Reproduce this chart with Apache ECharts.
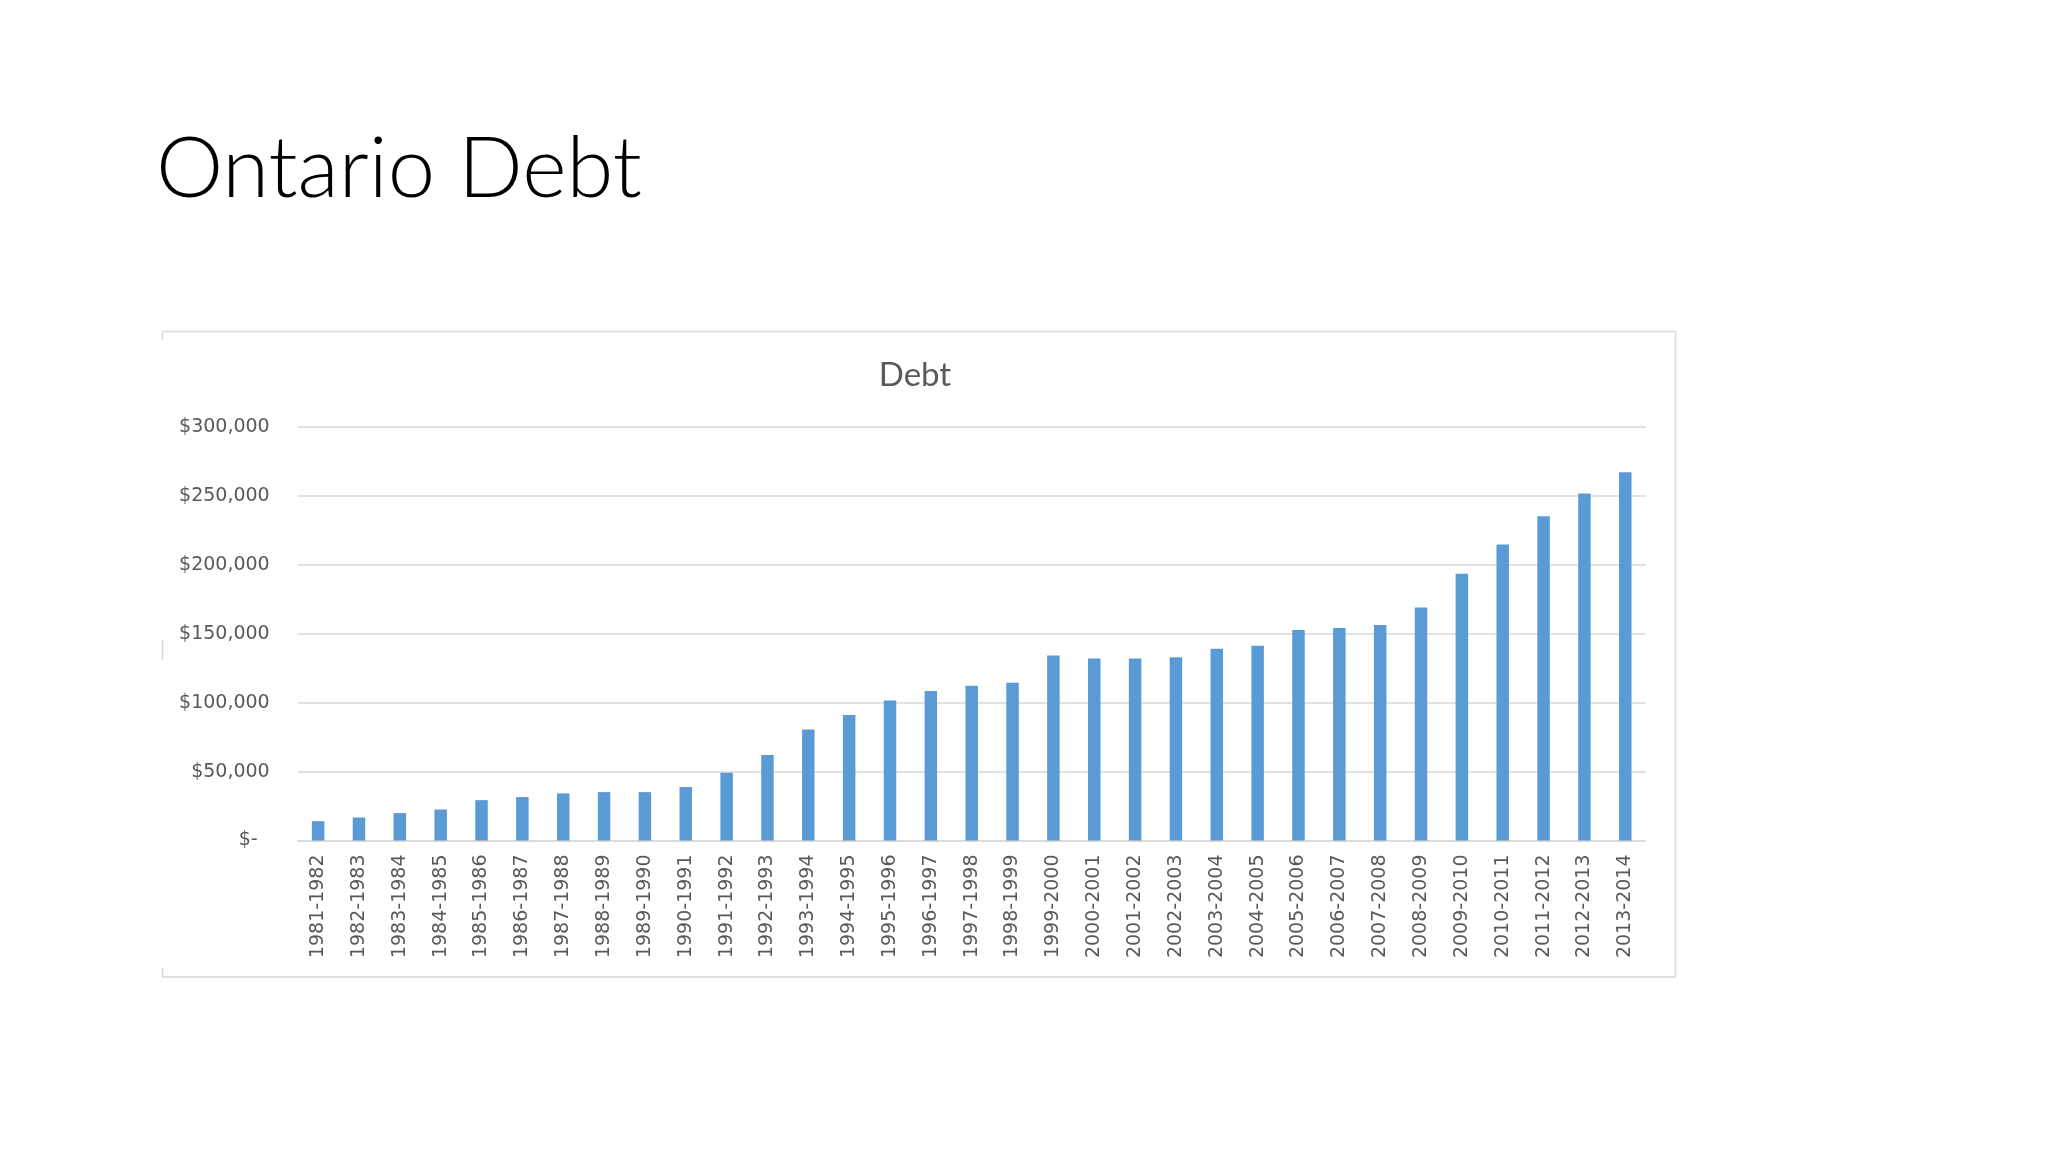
<!DOCTYPE html>
<html>
<head>
<meta charset="utf-8">
<script src="https://cdn.jsdelivr.net/npm/echarts@6/dist/echarts.min.js"></script>
<style>
html,body{margin:0;padding:0;background:#fff;}
#chart{width:2048px;height:1152px;}
</style>
</head>
<body>
<div id="chart"></div>
<script>
const categories = ["1981-1982","1982-1983","1983-1984","1984-1985","1985-1986","1986-1987","1987-1988","1988-1989","1989-1990","1990-1991","1991-1992","1992-1993","1993-1994","1994-1995","1995-1996","1996-1997","1997-1998","1998-1999","1999-2000","2000-2001","2001-2002","2002-2003","2003-2004","2004-2005","2005-2006","2006-2007","2007-2008","2008-2009","2009-2010","2010-2011","2011-2012","2012-2013","2013-2014"];
const debtValues = [14000,16700,19900,22500,29300,31500,34200,35100,35100,38800,49200,62000,80500,91100,101500,108500,112200,114400,134200,132000,132000,133000,139100,141300,152800,154100,156300,169100,193600,214700,235300,251800,267100];
const slideTitle = "Ontario Debt";
const chartTitle = "Debt";

const chart = echarts.init(document.getElementById('chart'), null, {renderer:'canvas'});
const frame = '#d9d9d9';
chart.setOption({
  backgroundColor:'#ffffff',
  animation:false,
  title:{
    text: chartTitle,
    left: 910, top: 354, textAlign:'center',
    textStyle:{fontFamily:'Lato, "Noto Sans", sans-serif', fontSize:33, fontWeight:'normal', color:'#595959'}
  },
  graphic:[
    {type:'text', left:156, top:127, style:{text:slideTitle, font:'300 85px Lato, "Noto Sans", sans-serif', fill:'#000000'}},
    {type:'line', shape:{x1:162,y1:331.5,x2:1675.5,y2:331.5}, style:{stroke:frame,lineWidth:1.5}},
    {type:'line', shape:{x1:1675.5,y1:331.5,x2:1675.5,y2:977}, style:{stroke:frame,lineWidth:1.5}},
    {type:'line', shape:{x1:162,y1:977,x2:1675.5,y2:977}, style:{stroke:frame,lineWidth:1.5}},
    {type:'line', shape:{x1:162.5,y1:331.5,x2:162.5,y2:340}, style:{stroke:frame,lineWidth:1.5}},
    {type:'line', shape:{x1:162.5,y1:640,x2:162.5,y2:660}, style:{stroke:frame,lineWidth:1.5}},
    {type:'line', shape:{x1:162.5,y1:968,x2:162.5,y2:977}, style:{stroke:frame,lineWidth:1.5}}
  ],
  grid:{left:297.7, right:402.3, top:427, bottom:311.5, containLabel:false},
  xAxis:{
    type:'category',
    data: categories,
    axisLine:{show:true, lineStyle:{color:'#d9d9d9', width:1.5}},
    axisTick:{show:false},
    axisLabel:{rotate:90, margin:14, interval:0, fontFamily:'"DejaVu Sans", sans-serif', fontSize:19, color:'#595959'}
  },
  yAxis:{
    type:'value', min:0, max:300000, interval:50000,
    axisLine:{show:false}, axisTick:{show:false},
    splitLine:{lineStyle:{color:'#d9d9d9', width:1.5}},
    axisLabel:{
      margin:28,
      padding:[5,0,0,0],
      fontFamily:'"DejaVu Sans", sans-serif', fontSize:19, color:'#595959',
      formatter:function(v){ return v===0 ? '$-  ' : '$' + v.toLocaleString('en-US'); }
    }
  },
  series:[{
    type:'bar',
    name: chartTitle,
    data: debtValues,
    barWidth:12.5,
    itemStyle:{color:'#5b9bd5'}
  }]
});
</script>
</body>
</html>
